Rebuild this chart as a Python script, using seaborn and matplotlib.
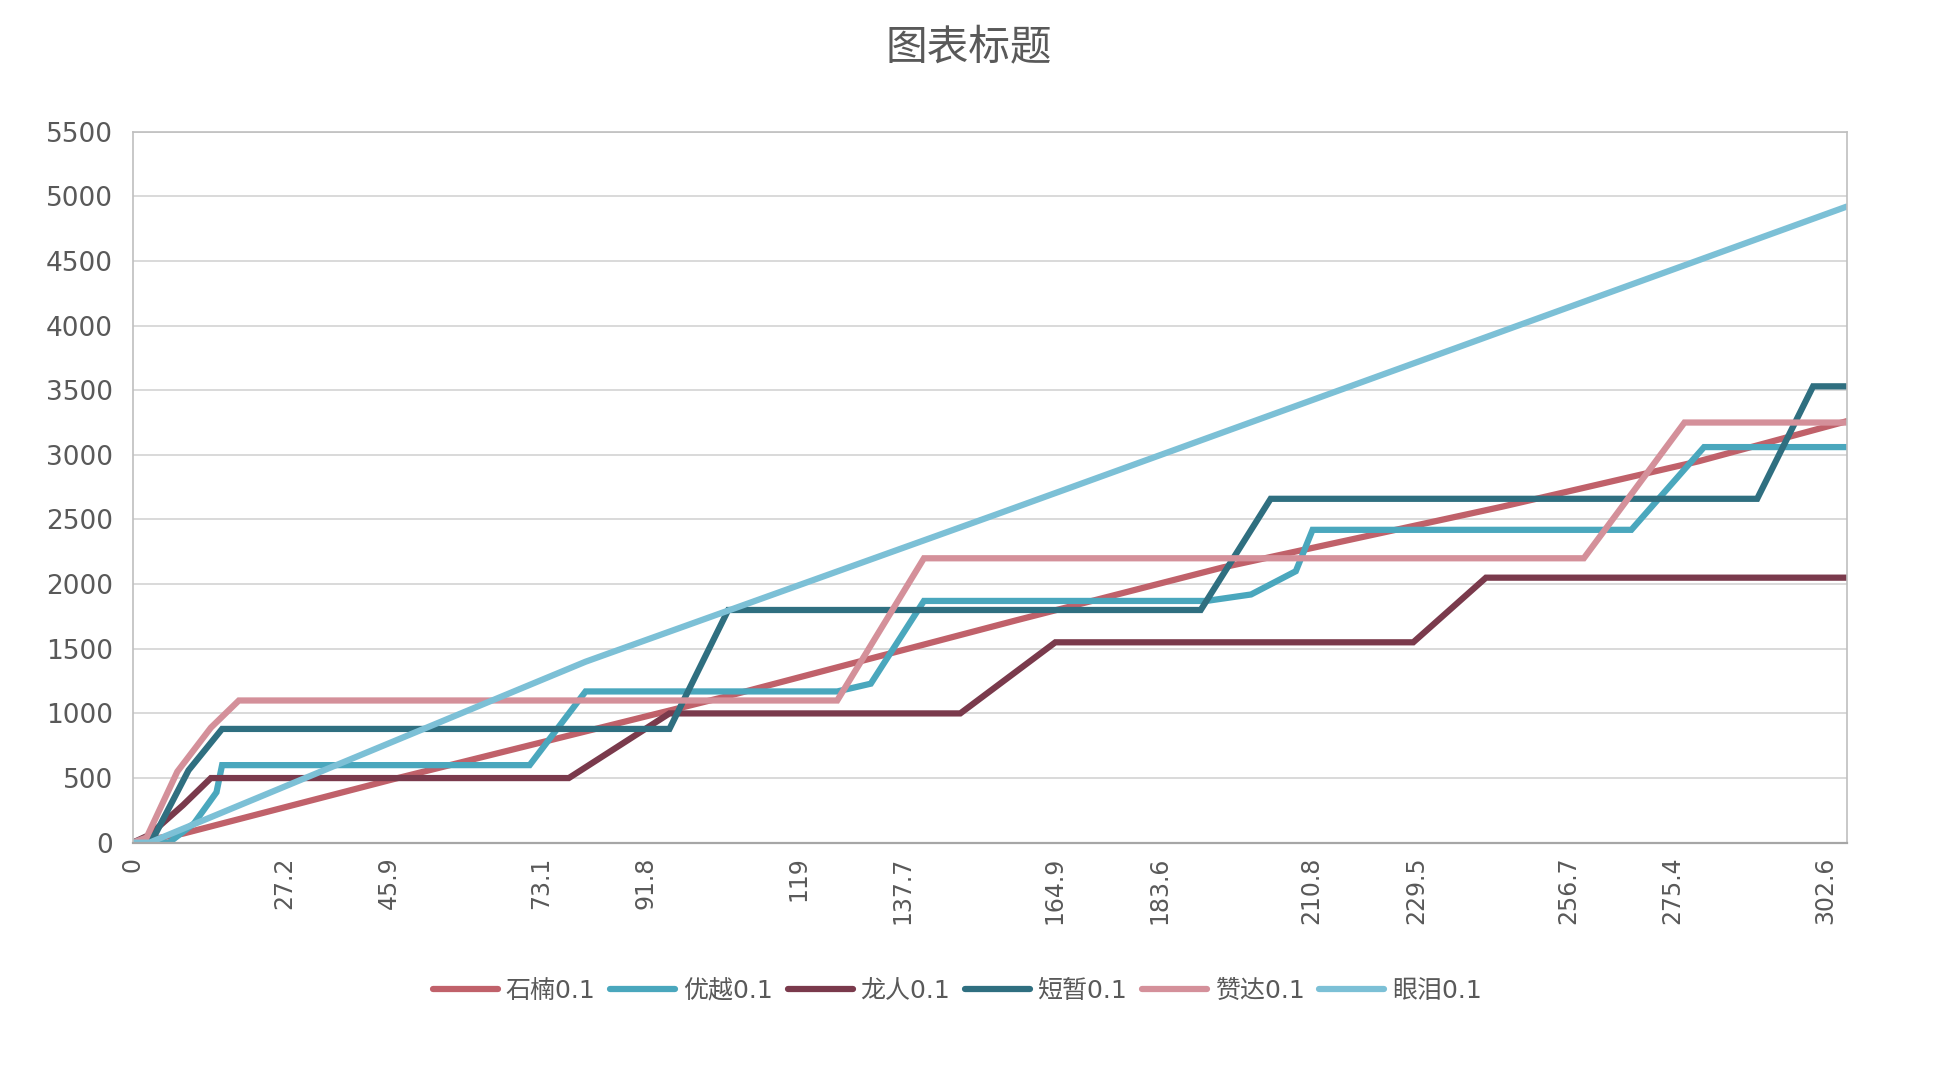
import pandas as pd
import numpy as np
import matplotlib.pyplot as plt
import seaborn as sns

# series values (x = category value, y = cumulative value)
shinan_x = [0, 9, 46.5, 106.5, 158, 195, 245, 280, 306.5]
shinan_y = [0, 70, 490, 1135, 1720, 2130, 2600, 2950, 3260]

youyue_x = [0, 6.5, 11, 15, 16, 71, 81, 126, 132, 141.5, 192, 200, 208, 211, 268, 281, 306.5]
youyue_y = [0, 0, 150, 390, 600, 600, 1170, 1170, 1230, 1870, 1870, 1920, 2100, 2420, 2420, 3060, 3060]

longren_x = [0, 3, 9, 14, 78, 96, 148, 165, 229, 242, 306.5]
longren_y = [0, 60, 290, 500, 500, 1000, 1000, 1550, 1550, 2050, 2050]

duanzan_x = [0, 4, 10, 16, 96, 106.5, 191, 203.5, 290.5, 300.5, 306.5]
duanzan_y = [0, 60, 560, 880, 880, 1800, 1800, 2660, 2660, 3530, 3530]

zanda_x = [0, 2.5, 8, 14, 19, 126, 141.5, 259.5, 277.5, 306.5]
zanda_y = [0, 40, 550, 890, 1100, 1100, 2200, 2200, 3250, 3250]

yanlei_x = [0, 3, 81, 154.5, 306.5]
yanlei_y = [0, 0, 1400, 2540, 4920]

names = ["石楠0.1", "优越0.1", "龙人0.1", "短暂0.1", "赞达0.1", "眼泪0.1"]
colors = ["#c0616a", "#4aa7bd", "#7a3a4c", "#2f6f80", "#d4909a", "#7cc0d6"]

x_ticks = [0, 27.2, 45.9, 73.1, 91.8, 119, 137.7, 164.9, 183.6, 210.8, 229.5, 256.7, 275.4, 302.6]
x_labels = ["0", "27.2", "45.9", "73.1", "91.8", "119", "137.7", "164.9", "183.6",
            "210.8", "229.5", "256.7", "275.4", "302.6"]

sns.set_theme(style="white")
# DejaVu first for the wide digits, CJK glyphs fall back to Noto
plt.rcParams['font.family'] = ['DejaVu Sans', 'Noto Sans CJK SC']

fig = plt.figure(figsize=(19.5, 10.79), dpi=100)
ax = fig.add_axes([0.068, 0.219, 0.879, 0.659])

all_x = [shinan_x, youyue_x, longren_x, duanzan_x, zanda_x, yanlei_x]
all_y = [shinan_y, youyue_y, longren_y, duanzan_y, zanda_y, yanlei_y]

for name, xs, ys, c in zip(names, all_x, all_y, colors):
    sns.lineplot(x=xs, y=ys, ax=ax, color=c, linewidth=4.5, label=name,
                 estimator=None, sort=False, solid_joinstyle="miter")

ax.set_xlim(0, 306.5)
ax.set_ylim(0, 5500)
ax.set_yticks(np.arange(0, 5501, 500))
ax.yaxis.grid(True, color="#d9d9d9", linewidth=1.4)
ax.set_axisbelow(True)
ax.set_xticks(x_ticks)
ax.set_xticklabels(x_labels, rotation=90)
ax.tick_params(axis="y", labelsize=19, colors="#595959", length=0, pad=14)
ax.tick_params(axis="x", labelsize=17, colors="#595959", length=0, pad=10)
for s in ["left", "top", "right"]:
    ax.spines[s].set_color("#bfbfbf")
    ax.spines[s].set_linewidth(1.2)
ax.spines["bottom"].set_color("#a6a6a6")
ax.spines["bottom"].set_linewidth(1.6)

fig.suptitle("图表标题", x=0.497, y=0.975, fontsize=30, color="#595959",
             family=['Noto Sans CJK SC', 'DejaVu Sans'])

ax.legend(loc="center", bbox_to_anchor=(0.491, 0.0815), bbox_transform=fig.transFigure,
          ncol=6, frameon=False, fontsize=18, handlelength=2.6, handletextpad=0.3,
          columnspacing=0.6, labelcolor="#595959")

fig.savefig("out.png", dpi=100, facecolor="white")
